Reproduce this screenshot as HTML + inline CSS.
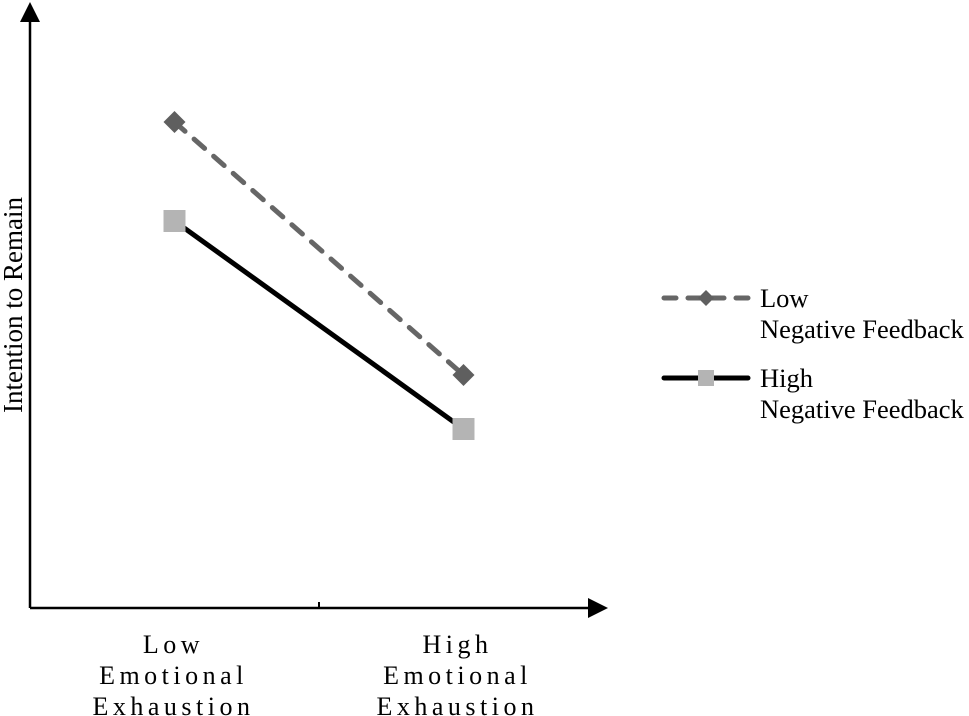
<!DOCTYPE html>
<html><head><meta charset="utf-8"><style>
html,body{margin:0;padding:0;background:#fff;}
svg{display:block;font-family:"Liberation Serif",serif;}
</style></head><body>
<svg id="chart" width="969" height="716">
<g id="axes"></g><g id="plot"></g><g id="legend"></g>
</svg>
<script>
const categories = ["Low Emotional Exhaustion", "High Emotional Exhaustion"];
const seriesNames = ["Low Negative Feedback", "High Negative Feedback"];
const lowFeedback = [4.86, 2.33];
const highFeedback = [3.87, 1.79];

const NS = "http://www.w3.org/2000/svg";
function mk(tag, attrs, parent){const e=document.createElementNS(NS,tag);for(const k in attrs)e.setAttribute(k,attrs[k]);parent.appendChild(e);return e;}
const axes=document.getElementById('axes'), plot=document.getElementById('plot'), legend=document.getElementById('legend');
const x0=30, y0=608, xEnd=608, bandW=289;
function xs(i){return x0+bandW*(i+0.5);}
function ys(v){return y0-v*100;}

let e;
e=mk('line',{x1:x0,y1:y0,x2:x0,y2:22,stroke:'#000','stroke-width':2.5},axes);

e=mk('polygon',{points:`${x0-10},22 ${x0+10},22 ${x0},2`,fill:'#000'},axes);

e=mk('line',{x1:x0,y1:y0,x2:xEnd-16,y2:y0,stroke:'#000','stroke-width':2.5},axes);

e=mk('polygon',{points:`${xEnd-20},${y0-10} ${xEnd-20},${y0+10} ${xEnd},${y0}`,fill:'#000'},axes);

e=mk('line',{x1:x0+bandW,y1:y0,x2:x0+bandW,y2:y0-6,stroke:'#000','stroke-width':2},axes);


e=mk('text',{x:0,y:0,'font-size':27,'text-anchor':'middle',transform:'translate(22,305) rotate(-90)'},axes);
e.textContent='Intention to Remain';


categories.forEach((c,i)=>{
  const words=c.split(' ');
  const lines=[words[0],words[1],words[2]];
  lines.forEach((w,j)=>{
    const t=mk('text',{x:xs(i)-1-5*i,y:653+j*31,'font-size':26,'text-anchor':'middle','letter-spacing':'4.5'},axes);
    t.textContent=w;
    
    
  });
});

function drawSeries(vals,color,dash,marker,mcolor,name){
  const pts=vals.map((v,i)=>[xs(i),ys(v)]);
  const l=mk('polyline',{points:pts.map(p=>p.join(',')).join(' '),fill:'none',stroke:color,'stroke-width':5,'stroke-dasharray':dash,'stroke-linecap':'round'},plot);
  
  
  pts.forEach(p=>{
    let m;
    if(marker==='diamond') m=mk('polygon',{points:`${p[0]},${p[1]-11} ${p[0]+11},${p[1]} ${p[0]},${p[1]+11} ${p[0]-11},${p[1]}`,fill:mcolor},plot);
    else m=mk('rect',{x:p[0]-11,y:p[1]-11,width:22,height:22,fill:mcolor},plot);
    
    
  });
}
drawSeries(highFeedback,'#000','none','square','#b4b4b4','high-feedback');
drawSeries(lowFeedback,'#666','14 12','diamond','#5f5f5f','low-feedback');

function legendEntry(y,color,dash,marker,mcolor,l1,l2,name){
  const g=mk('g',{},legend);
  
  
  mk('line',{x1:664,y1:y,x2:748,y2:y,stroke:color,'stroke-width':5,'stroke-dasharray':dash,'stroke-linecap':'round'},g);
  if(marker==='diamond') mk('polygon',{points:`706,${y-8} 714,${y} 706,${y+8} 698,${y}`,fill:mcolor},g);
  else mk('rect',{x:698,y:y-8,width:16,height:16,fill:mcolor},g);
  const t1=mk('text',{x:760,y:y+9,'font-size':26.5},g);t1.textContent=l1;
  const t2=mk('text',{x:760,y:y+40,'font-size':26.5},g);t2.textContent=l2;
}
legendEntry(298,'#666','12 12','diamond','#5f5f5f','Low','Negative Feedback','low');
legendEntry(378,'#000','none','square','#b4b4b4','High','Negative Feedback','high');
</script>
</body></html>
